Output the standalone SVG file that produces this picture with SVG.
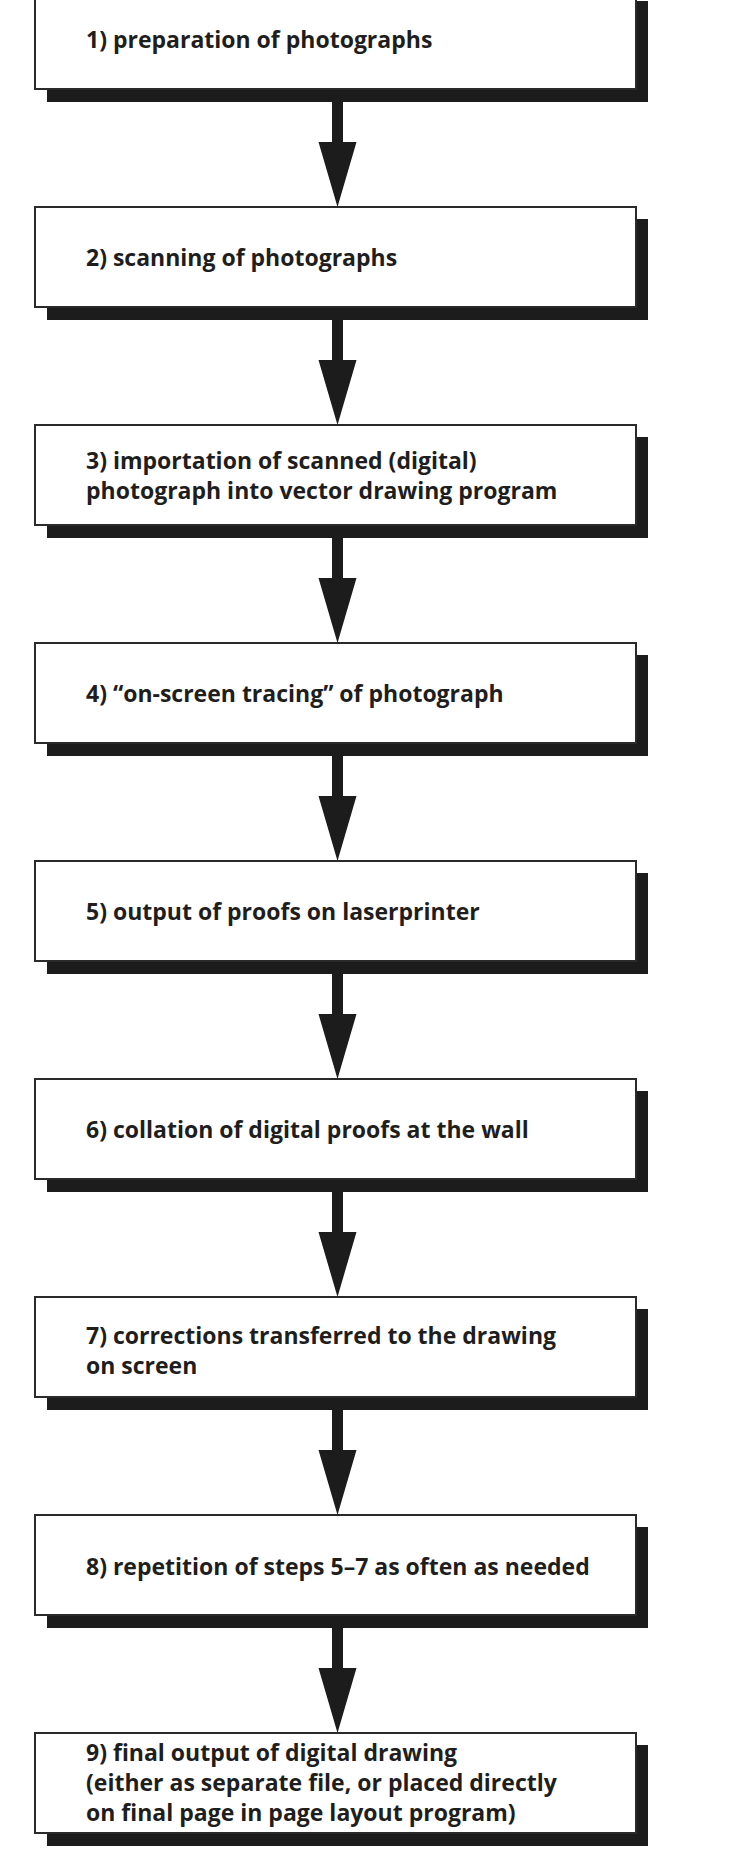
<svg xmlns="http://www.w3.org/2000/svg" width="732" height="1869" viewBox="0 0 732 1869">
<style>
.box{fill:#ffffff;stroke:#2a2a2a;stroke-width:2}
.shadow{fill:#1c1c1c}
.lbl{font-family:"Open Sans","Liberation Sans",sans-serif;font-weight:700;font-size:23px;fill:#1e1e1e}
.arr{fill:#1c1c1c}
</style>
<rect width="732" height="1869" fill="#ffffff"/>
<g id="node1">
<rect class="shadow" x="47" y="1" width="601" height="101"/>
<rect class="box" x="35" y="-11" width="601" height="100"/>
<text class="lbl" x="86" y="48">1) preparation of photographs</text>
</g>
<g id="node2">
<rect class="shadow" x="47" y="219" width="601" height="101"/>
<rect class="box" x="35" y="207" width="601" height="100"/>
<text class="lbl" x="86" y="266">2) scanning of photographs</text>
</g>
<g id="node3">
<rect class="shadow" x="47" y="437" width="601" height="101"/>
<rect class="box" x="35" y="425" width="601" height="100"/>
<text class="lbl" x="86" y="469">3) importation of scanned (digital)</text>
<text class="lbl" x="86" y="499">photograph into vector drawing program</text>
</g>
<g id="node4">
<rect class="shadow" x="47" y="655" width="601" height="101"/>
<rect class="box" x="35" y="643" width="601" height="100"/>
<text class="lbl" x="86" y="702">4) “on-screen tracing” of photograph</text>
</g>
<g id="node5">
<rect class="shadow" x="47" y="873" width="601" height="101"/>
<rect class="box" x="35" y="861" width="601" height="100"/>
<text class="lbl" x="86" y="920">5) output of proofs on laserprinter</text>
</g>
<g id="node6">
<rect class="shadow" x="47" y="1091" width="601" height="101"/>
<rect class="box" x="35" y="1079" width="601" height="100"/>
<text class="lbl" x="86" y="1138">6) collation of digital proofs at the wall</text>
</g>
<g id="node7">
<rect class="shadow" x="47" y="1309" width="601" height="101"/>
<rect class="box" x="35" y="1297" width="601" height="100"/>
<text class="lbl" x="86" y="1344">7) corrections transferred to the drawing</text>
<text class="lbl" x="86" y="1374">on screen</text>
</g>
<g id="node8">
<rect class="shadow" x="47" y="1527" width="601" height="101"/>
<rect class="box" x="35" y="1515" width="601" height="100"/>
<text class="lbl" x="86" y="1575">8) repetition of steps 5–7 as often as needed</text>
</g>
<g id="node9">
<rect class="shadow" x="47" y="1745" width="601" height="101"/>
<rect class="box" x="35" y="1733" width="601" height="100"/>
<text class="lbl" x="86" y="1761">9) final output of digital drawing</text>
<text class="lbl" x="86" y="1791">(either as separate file, or placed directly</text>
<text class="lbl" x="86" y="1821">on final page in page layout program)</text>
</g>
<g id="connectors">
<path class="arr" d="M332,102 H343 V142 H356.5 L337.5,207 L318.5,142 H332 Z"/>
<path class="arr" d="M332,320 H343 V360 H356.5 L337.5,425 L318.5,360 H332 Z"/>
<path class="arr" d="M332,538 H343 V578 H356.5 L337.5,643 L318.5,578 H332 Z"/>
<path class="arr" d="M332,756 H343 V796 H356.5 L337.5,861 L318.5,796 H332 Z"/>
<path class="arr" d="M332,974 H343 V1014 H356.5 L337.5,1079 L318.5,1014 H332 Z"/>
<path class="arr" d="M332,1192 H343 V1232 H356.5 L337.5,1297 L318.5,1232 H332 Z"/>
<path class="arr" d="M332,1410 H343 V1450 H356.5 L337.5,1515 L318.5,1450 H332 Z"/>
<path class="arr" d="M332,1628 H343 V1668 H356.5 L337.5,1733 L318.5,1668 H332 Z"/>
</g>
</svg>
